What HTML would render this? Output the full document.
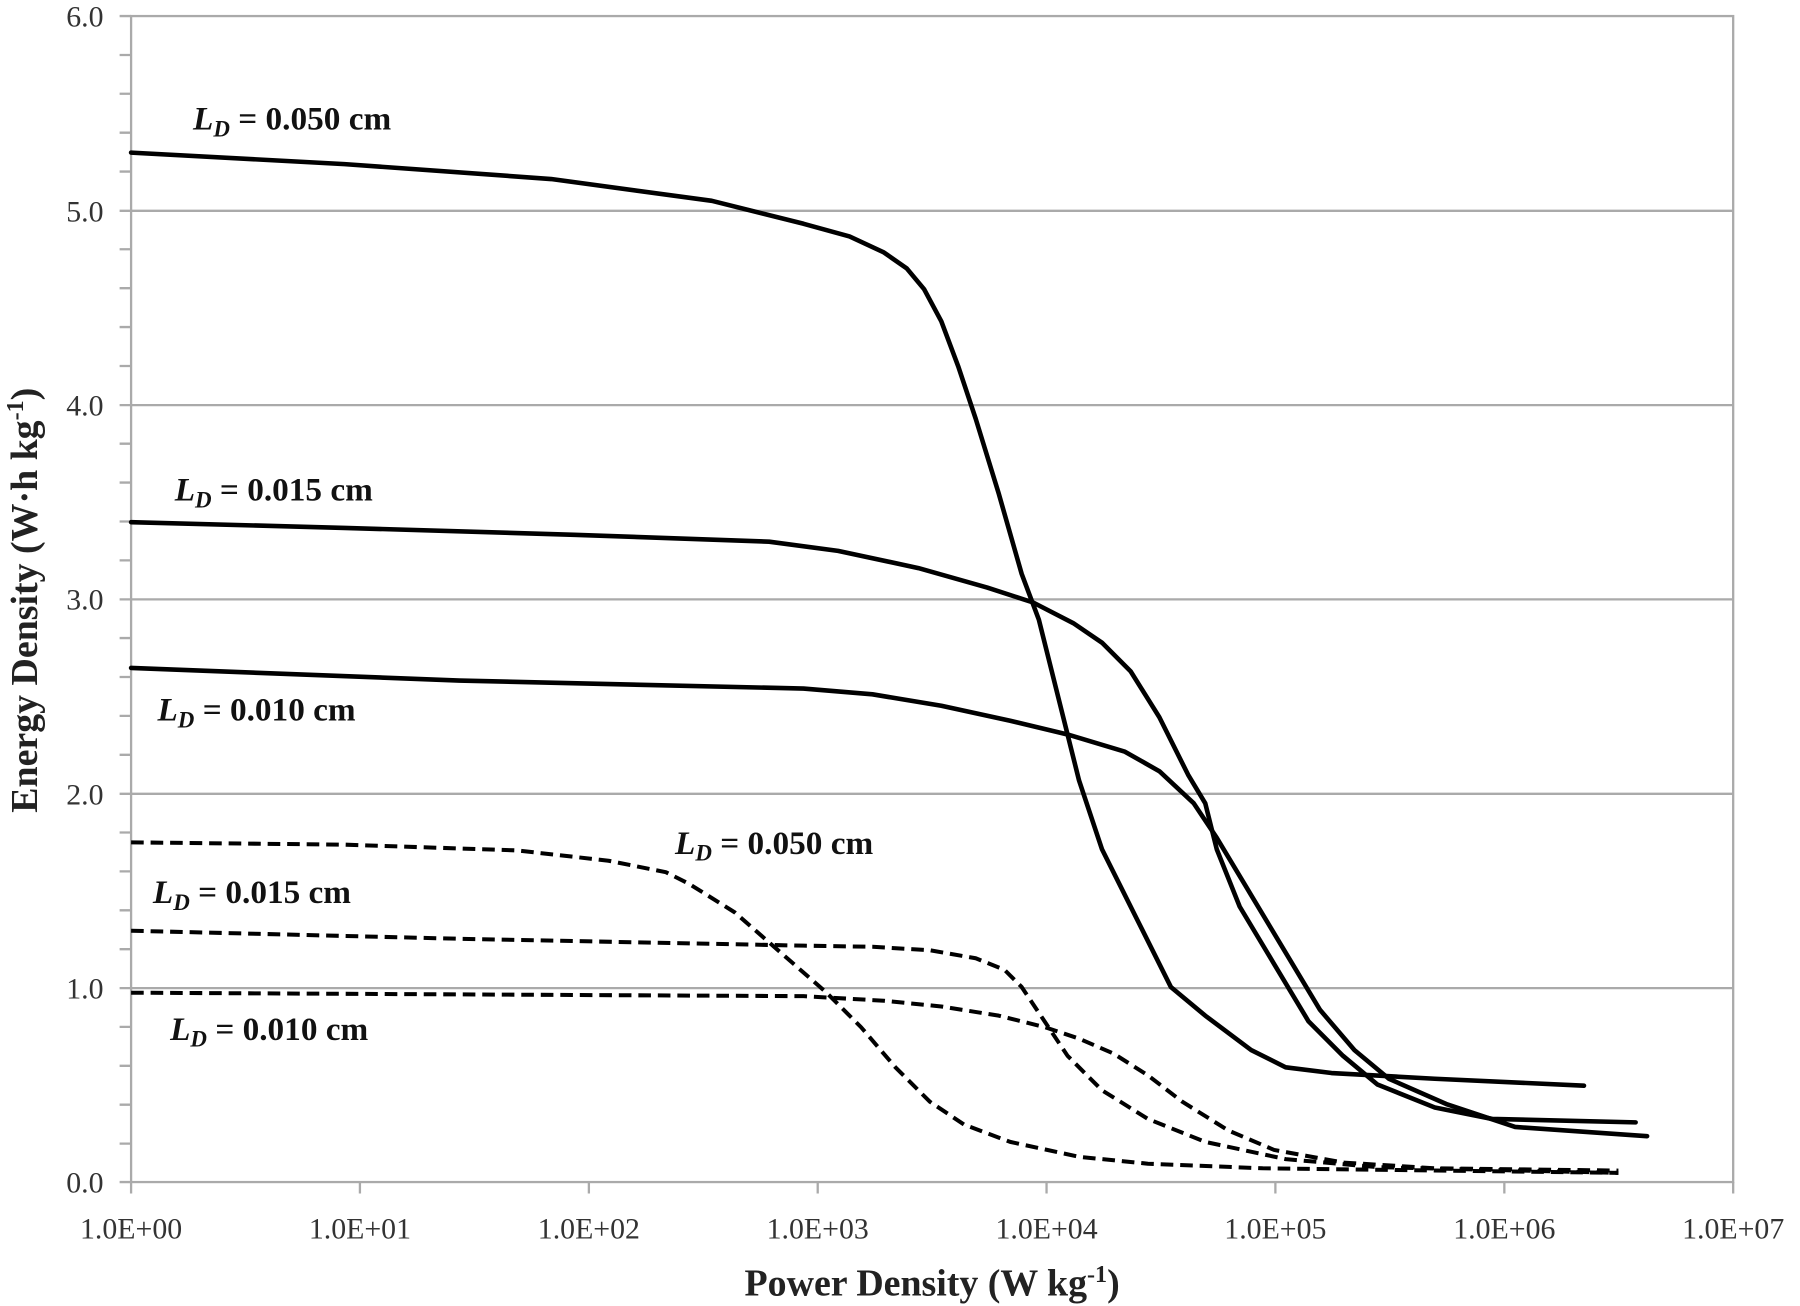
<!DOCTYPE html>
<html><head><meta charset="utf-8"><style>html,body{margin:0;padding:0;background:#fff}svg{display:block}</style></head><body>
<svg width="1800" height="1306" viewBox="0 0 1568 1138" xmlns="http://www.w3.org/2000/svg" font-family="Liberation Serif, serif">
<rect x="0" y="0" width="1568" height="1138" fill="#fff"/>
<g stroke="#aaa" stroke-width="2" fill="none">
<line x1="114" y1="183.7" x2="1510" y2="183.7"/>
<line x1="114" y1="353" x2="1510" y2="353"/>
<line x1="114" y1="522.3" x2="1510" y2="522.3"/>
<line x1="114" y1="691.7" x2="1510" y2="691.7"/>
<line x1="114" y1="861" x2="1510" y2="861"/>
<rect x="114" y="14" width="1396" height="1016"/>
<path d="M104 14H114M104 47.9H114M104 81.7H114M104 115.6H114M104 149.5H114M104 183.7H114M104 217.2H114M104 251.1H114M104 285H114M104 318.9H114M104 353H114M104 386.6H114M104 420.5H114M104 454.4H114M104 488.3H114M104 522.3H114M104 556H114M104 589.9H114M104 623.8H114M104 657.7H114M104 691.7H114M104 725.4H114M104 759.3H114M104 793.2H114M104 827.1H114M104 861H114M104 894.8H114M104 928.7H114M104 962.6H114M104 996.5H114M104 1030H114"/>
<path d="M114 1030V1040M313.4 1030V1040M512.9 1030V1040M712.3 1030V1040M911.7 1030V1040M1111.1 1030V1040M1310.6 1030V1040M1510 1030V1040"/>
</g>
<g fill="#333" font-size="26" text-anchor="end">
<text x="90" y="23">6.0</text><text x="90" y="193">5.0</text><text x="90" y="362">4.0</text><text x="90" y="531">3.0</text><text x="90" y="701">2.0</text><text x="90" y="870">1.0</text><text x="90" y="1039">0.0</text>
</g>
<g fill="#333" font-size="26" text-anchor="middle">
<text x="114" y="1079">1.0E+00</text><text x="313.4" y="1079">1.0E+01</text><text x="512.9" y="1079">1.0E+02</text><text x="712.3" y="1079">1.0E+03</text><text x="911.7" y="1079">1.0E+04</text><text x="1111.1" y="1079">1.0E+05</text><text x="1310.6" y="1079">1.0E+06</text><text x="1510" y="1079">1.0E+07</text>
</g>
<text x="812" y="1129" text-anchor="middle" font-weight="bold" font-size="33" fill="#222">Power Density (W kg<tspan font-size="21" dy="-12">-1</tspan><tspan dy="12">)</tspan></text>
<text transform="translate(32,523) rotate(-90)" text-anchor="middle" font-weight="bold" font-size="33" fill="#222">Energy Density (W·h kg<tspan font-size="21" dy="-12">-1</tspan><tspan dy="12">)</tspan></text>
<g fill="none" stroke="#000" stroke-width="4" stroke-linejoin="round" stroke-linecap="round">
<polyline points="114,133 300,143 480,156 620,175 700,195 740,206 770,220 790,234 805,252 820,280 835,320 850,365 870,430 890,500 905,540 920,600 940,680 960,740 990,800 1020,860 1050,885 1090,915 1120,930 1160,935 1250,940 1380,946"/>
<polyline points="114,455 300,460 500,466 670,472 730,480 800,495 860,512 900,525 935,543 960,560 985,585 1010,625 1035,675 1050,700 1060,740 1080,790 1110,840 1140,890 1170,920 1200,945 1250,965 1300,975 1425,978"/>
<polyline points="114,582 400,593 700,600 760,605 820,615 880,628 930,640 980,655 1010,672 1040,700 1060,730 1090,780 1120,830 1150,880 1180,915 1210,940 1260,962 1320,982 1435,990"/>
</g>
<g fill="none" stroke="#000" stroke-width="3.5" stroke-dasharray="11,6" stroke-linejoin="round">
<polyline points="114,734 300,736 450,741 530,750 580,760 600,770 640,795 680,830 720,865 750,895 780,930 810,960 840,980 880,995 940,1008 1000,1014 1100,1018 1410,1022"/>
<polyline points="114,811 400,818 600,822 700,824 760,825 810,828 850,835 875,845 890,860 910,890 930,920 960,950 1000,975 1050,995 1120,1010 1200,1017 1410,1022"/>
<polyline points="114,865 500,867 700,868 770,872 820,877 870,885 910,895 940,905 970,918 1000,937 1030,960 1070,985 1110,1002 1170,1013 1250,1018 1410,1020"/>
</g>
<g font-size="29" font-weight="bold" fill="#111">
<text x="168" y="113"><tspan font-style="italic">L</tspan><tspan font-style="italic" font-size="20" dy="6">D</tspan><tspan dy="-6"> = 0.050 cm</tspan></text>
<text x="152" y="436"><tspan font-style="italic">L</tspan><tspan font-style="italic" font-size="20" dy="6">D</tspan><tspan dy="-6"> = 0.015 cm</tspan></text>
<text x="137" y="628"><tspan font-style="italic">L</tspan><tspan font-style="italic" font-size="20" dy="6">D</tspan><tspan dy="-6"> = 0.010 cm</tspan></text>
<text x="588" y="744"><tspan font-style="italic">L</tspan><tspan font-style="italic" font-size="20" dy="6">D</tspan><tspan dy="-6"> = 0.050 cm</tspan></text>
<text x="133" y="787"><tspan font-style="italic">L</tspan><tspan font-style="italic" font-size="20" dy="6">D</tspan><tspan dy="-6"> = 0.015 cm</tspan></text>
<text x="148" y="906"><tspan font-style="italic">L</tspan><tspan font-style="italic" font-size="20" dy="6">D</tspan><tspan dy="-6"> = 0.010 cm</tspan></text>
</g>
</svg>
</body></html>
